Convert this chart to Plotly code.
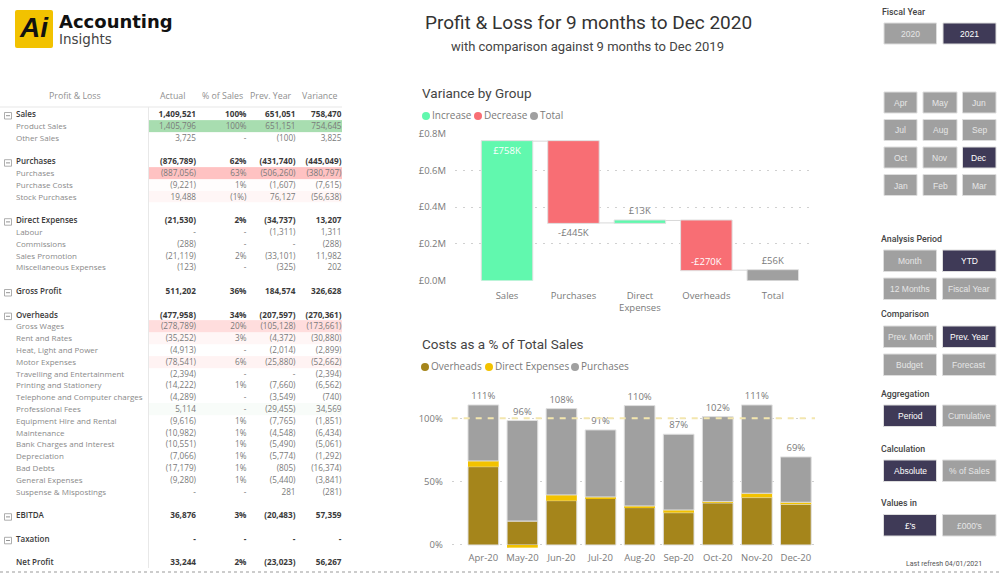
import plotly.graph_objects as go

W, H = 1000, 573
GREY = "#A0A0A0"
NAVY = "#3F3A57"
TXT = "#7A7A7A"
DARK = "#3A3A3A"
TABLE_FONT = "Open Sans"
HEAD_FONT = "Roboto"

def px(x):
    return x / W

def py(y):
    return 1 - y / H

# ---- P&L table, blank rows are None, groups have bold=True
rows = [
    ("Sales", "1,409,521", "100%", "651,051", "758,470", True, True),
    ("Product Sales", "1,405,796", "100%", "651,151", "754,645", False, False),
    ("Other Sales", "3,725", "-", "(100)", "3,825", False, False),
    None,
    ("Purchases", "(876,789)", "62%", "(431,740)", "(445,049)", True, True),
    ("Purchases", "(887,056)", "63%", "(506,260)", "(380,797)", False, False),
    ("Purchase Costs", "(9,221)", "1%", "(1,607)", "(7,615)", False, False),
    ("Stock Purchases", "19,488", "(1%)", "76,127", "(56,638)", False, False),
    None,
    ("Direct Expenses", "(21,530)", "2%", "(34,737)", "13,207", True, True),
    ("Labour", "-", "-", "(1,311)", "1,311", False, False),
    ("Commissions", "(288)", "-", "-", "(288)", False, False),
    ("Sales Promotion", "(21,119)", "2%", "(33,101)", "11,982", False, False),
    ("Miscellaneous Expenses", "(123)", "-", "(325)", "202", False, False),
    None,
    ("Gross Profit", "511,202", "36%", "184,574", "326,628", True, True),
    None,
    ("Overheads", "(477,958)", "34%", "(207,597)", "(270,361)", True, True),
    ("Gross Wages", "(278,789)", "20%", "(105,128)", "(173,661)", False, False),
    ("Rent and Rates", "(35,252)", "3%", "(4,372)", "(30,880)", False, False),
    ("Heat, Light and Power", "(4,913)", "-", "(2,014)", "(2,899)", False, False),
    ("Motor Expenses", "(78,541)", "6%", "(25,880)", "(52,662)", False, False),
    ("Travelling and Entertainment", "(2,394)", "-", "-", "(2,394)", False, False),
    ("Printing and Stationery", "(14,222)", "1%", "(7,660)", "(6,562)", False, False),
    ("Telephone and Computer charges", "(4,289)", "-", "(3,549)", "(740)", False, False),
    ("Professional Fees", "5,114", "-", "(29,455)", "34,569", False, False),
    ("Equipment Hire and Rental", "(9,616)", "1%", "(7,765)", "(1,851)", False, False),
    ("Maintenance", "(10,982)", "1%", "(4,548)", "(6,434)", False, False),
    ("Bank Charges and Interest", "(10,551)", "1%", "(5,490)", "(5,061)", False, False),
    ("Depreciation", "(7,066)", "1%", "(5,774)", "(1,292)", False, False),
    ("Bad Debts", "(17,179)", "1%", "(805)", "(16,374)", False, False),
    ("General Expenses", "(9,280)", "1%", "(5,440)", "(3,841)", False, False),
    ("Suspense & Mispostings", "-", "-", "281", "(281)", False, False),
    None,
    ("EBITDA", "36,876", "3%", "(20,483)", "57,359", True, True),
    None,
    ("Taxation", "-", "-", "-", "-", True, True),
    None,
    ("Net Profit", "33,244", "2%", "(23,023)", "56,267", True, False),
]
ROW0, ROWH = 114, 11.8
row_y = [ROW0 + ROWH * i for i in range(len(rows))]
text_y = [y + 1 for y in row_y]
col_right = [193, 243.5, 292.5, 338.5]

# conditional formatting, -1 red ... +1 green
tint = {1: 1, 5: -1, 6: -0.04, 7: -0.14, 18: -0.55, 19: -0.14, 21: -0.2, 25: 0.08}
z = [[tint.get(i, 0)] * 4 for i in range(len(rows))]

fig = go.Figure()

fig.add_trace(go.Heatmap(
    x=[149, 198, 246, 294, 342], y=row_y, z=z, zmin=-1, zmax=1,
    colorscale=[[0, "#FFC2C2"], [0.5, "#FFFFFF"], [1, "#A8DDB0"]],
    showscale=False, hoverinfo="skip", xaxis="x3", yaxis="y3",
))

for bold in (False, True):
    idx = [i for i, r in enumerate(rows) if r and r[5] == bold]
    fig.add_trace(go.Scatter(
        x=[16] * len(idx), y=[text_y[i] for i in idx], text=[rows[i][0] for i in idx],
        mode="text", textposition="middle right",
        textfont=dict(family=TABLE_FONT, size=8, color=DARK if bold else "#8A8A8A", weight=600 if bold else 400),
        xaxis="x3", yaxis="y3", hoverinfo="skip",
    ))
    for c in range(4):
        fig.add_trace(go.Scatter(
            x=[col_right[c] + 3] * len(idx), y=[text_y[i] for i in idx], text=[rows[i][c + 1] for i in idx],
            mode="text", textposition="middle left",
            textfont=dict(family=TABLE_FONT, size=8.2, color=DARK if bold else TXT, weight=700 if bold else 400),
            xaxis="x3", yaxis="y3", hoverinfo="skip",
        ))

# ---- waterfall
fig.add_trace(go.Waterfall(
    x=["Sales", "Purchases", "Direct<br>Expenses", "Overheads", "Total"],
    y=[758470, -445049, 13207, -270361, 56267],
    measure=["relative", "relative", "relative", "relative", "total"],
    text=["£758K", "-£445K", "£13K", "-£270K", "£56K"],
    textposition=["inside", "outside", "outside", "inside", "outside"],
    insidetextanchor="end", constraintext="none", cliponaxis=False,
    insidetextfont=dict(family=TABLE_FONT, size=9.5, color="white"),
    outsidetextfont=dict(family=TABLE_FONT, size=9.5, color=TXT),
    increasing=dict(marker=dict(color="#61F8AE", line=dict(color="#E0E0E0", width=1))),
    decreasing=dict(marker=dict(color="#F86E74", line=dict(color="#E0E0E0", width=1))),
    totals=dict(marker=dict(color=GREY, line=dict(color="#E0E0E0", width=1))),
    connector=dict(line=dict(color="#D8D8D8", width=1)),
    width=0.775, xaxis="x", yaxis="y", hoverinfo="skip",
))

# ---- costs as % of sales
months = ["Apr-20", "May-20", "Jun-20", "Jul-20", "Aug-20", "Sep-20", "Oct-20", "Nov-20", "Dec-20"]
overheads = [61.8, 18.9, 35.0, 36.8, 29.5, 25.5, 33.2, 37.4, 32.1]
direct = [4.5, -2.1, 4.5, 1.1, 1.3, 2.1, 1.0, 3.4, 1.6]
purchases = [44.2, 79.3, 68.1, 52.9, 79.2, 59.8, 67.1, 69.7, 35.8]
totals = ["111%", "96%", "108%", "91%", "110%", "87%", "102%", "111%", "69%"]

for name, vals, col, lw in [("Overheads", overheads, "#A5851B", 1), ("Direct Expenses", direct, "#F2C200", 0), ("Purchases", purchases, GREY, 1)]:
    fig.add_trace(go.Bar(
        x=months, y=vals, name=name, marker=dict(color=col, line=dict(color="#E0E0E0", width=lw)),
        width=0.786, xaxis="x2", yaxis="y2", hoverinfo="skip",
    ))
tops = [o + max(d, 0) + p for o, d, p in zip(overheads, direct, purchases)]
fig.add_trace(go.Scatter(
    x=months, y=tops, text=totals, mode="markers+text", textposition="top center", cliponaxis=False,
    marker=dict(size=4, opacity=0),
    textfont=dict(family=TABLE_FONT, size=9.5, color=TXT), xaxis="x2", yaxis="y2", hoverinfo="skip",
))

# ---- legends
legends = [
    (116, [(426, "Increase", "#61F8AE"), (478, "Decrease", "#F86E74"), (534, "Total", GREY)]),
    (367, [(425, "Overheads", "#A5851B"), (489, "Direct Expenses", "#F2C200"), (575, "Purchases", GREY)]),
]
for ly, items in legends:
    for lx, name, col in items:
        fig.add_trace(go.Scatter(
            x=[lx], y=[ly], text=[name], mode="markers+text", textposition="middle right",
            marker=dict(color=col, size=8), xaxis="x3", yaxis="y3", hoverinfo="skip",
            textfont=dict(family=TABLE_FONT, size=10, color=TXT),
        ))

shapes = []
annots = []

def label(x, y, text, size=9, color=TXT, anchor="left", family=TABLE_FONT, weight=400, style="normal"):
    annots.append(dict(
        x=px(x), y=py(y), xref="paper", yref="paper", text=text, showarrow=False,
        xanchor=anchor, yanchor="middle", align=anchor, borderpad=0,
        font=dict(size=size, color=color, family=family, weight=weight, style=style),
    ))

def line(x0, y0, x1, y1, color="#E8E8E8", width=1, dash="solid"):
    shapes.append(dict(type="line", xref="paper", yref="paper", x0=px(x0), x1=px(x1), y0=py(y0), y1=py(y1),
                       line=dict(color=color, width=width, dash=dash)))

def button(x0, y0, x1, y1, text, on=False):
    shapes.append(dict(type="rect", xref="paper", yref="paper", x0=px(x0), x1=px(x1), y0=py(y0), y1=py(y1),
                       fillcolor=NAVY if on else GREY, line=dict(color="#DDDDDD", width=1)))
    label((x0 + x1) / 2, (y0 + y1) / 2 + 0.5, text, size=8.5, color="white" if on else "#E6E6E6", anchor="center", family="Liberation Sans")

# logo, rounded square
l, r, t, b, c = px(15), px(53), py(10), py(48), 2
cx, cy = c / W, c / H
logo = (f"M {l+cx} {t} L {r-cx} {t} Q {r} {t} {r} {t-cy} L {r} {b+cy} Q {r} {b} {r-cx} {b} "
        f"L {l+cx} {b} Q {l} {b} {l} {b+cy} L {l} {t-cy} Q {l} {t} {l+cx} {t} Z")
shapes.append(dict(type="path", xref="paper", yref="paper", path=logo, fillcolor="#F2C200", line=dict(color="#F2C200", width=0)))
label(34, 28, "Ai", size=28, color="#111111", anchor="center", family="Liberation Sans", weight=700, style="italic")
label(57.5, 22, "Accounting", size=18, color="#111111", family="DejaVu Sans", weight=700)
label(57.5, 38.5, "Insights", size=13.5, color="#444444", family="DejaVu Sans")

# titles
label(588, 22.5, "Profit &amp; Loss for 9 months to Dec 2020", size=19, color="#333333", anchor="center", family=HEAD_FONT)
label(587, 46, "with comparison against 9 months to Dec 2019", size=13, color="#444444", anchor="center", family=HEAD_FONT)
label(421, 93, "Variance by Group", size=13.5, color="#444444", family=HEAD_FONT)
label(421, 344, "Costs as a % of Total Sales", size=13.5, color="#444444", family=HEAD_FONT)

# table chrome
label(75, 96, "Profit &amp; Loss", size=8.8, color="#909090", anchor="center")
label(186, 96, "Actual", size=8.8, color="#909090", anchor="right")
label(243.5, 96, "% of Sales", size=8.8, color="#909090", anchor="right")
label(292.5, 96, "Prev. Year", size=8.8, color="#909090", anchor="right")
label(337.5, 96, "Variance", size=8.8, color="#909090", anchor="right")
line(0, 107, 342, 107, width=1.2)
line(148.5, 107, 148.5, 568, width=1)
for i, row in enumerate(rows):
    if row and row[6]:
        shapes.append(dict(type="rect", xref="paper", yref="paper", x0=px(4.5), x1=px(11.5), y0=py(row_y[i] - 1.5), y1=py(row_y[i] + 5),
                           line=dict(color="#999999", width=0.8), fillcolor="white"))
        line(6, row_y[i] + 1.7, 10, row_y[i] + 1.7, color="#777777", width=0.8)

# slicers
label(881, 12, "Fiscal Year", size=8.8, color="#444444", family=HEAD_FONT, weight=500)
button(884, 23, 936.5, 44, "2020")
button(943, 23, 996, 44, "2021", True)
month_names = ["Apr", "May", "Jun", "Jul", "Aug", "Sep", "Oct", "Nov", "Dec", "Jan", "Feb", "Mar"]
col_x = [(884, 917), (923, 957), (962.5, 996)]
row_t = [92, 119.5, 147, 174.5]
for i, m in enumerate(month_names):
    x0, x1 = col_x[i % 3]
    top = row_t[i // 3]
    button(x0, top, x1, top + 21, m, m == "Dec")

LEFT, RIGHT = (883.5, 936.5), (942.5, 996)
groups = [
    ("Analysis Period", 239, [(250, [("Month", 0), ("YTD", 1)]), (278, [("12 Months", 0), ("Fiscal Year", 0)])]),
    ("Comparison", 314, [(326, [("Prev. Month", 0), ("Prev. Year", 1)]), (354, [("Budget", 0), ("Forecast", 0)])]),
    ("Aggregation", 394, [(405, [("Period", 1), ("Cumulative", 0)])]),
    ("Calculation", 449, [(460, [("Absolute", 1), ("% of Sales", 0)])]),
    ("Values in", 503, [(514.5, [("£'s", 1), ("£000's", 0)])]),
]
for title, ty, btns in groups:
    label(880, ty, title, size=8.8, color="#444444", family=HEAD_FONT, weight=500)
    for top, pair in btns:
        for (x0, x1), (name, on) in zip((LEFT, RIGHT), pair):
            button(x0, top, x1, top + 21.5, name, bool(on))
label(944, 564, "Last refresh 04/01/2021", size=7, color="#555555", anchor="center", family=HEAD_FONT)
line(0, 572, 1000, 572, color="#999999", width=1, dash="dot")

# 100% reference
shapes.append(dict(type="line", xref="x2 domain", yref="y2", x0=0, x1=1, y0=100, y1=100, layer="above",
                   line=dict(color="#F3E6AE", width=2, dash="6px,6px")))

tickfont = dict(family=TABLE_FONT, size=9.5, color=TXT)
fig.update_layout(
    width=W, height=H, margin=dict(l=0, r=0, t=0, b=0, autoexpand=False), showlegend=False,
    paper_bgcolor="white", plot_bgcolor="rgba(0,0,0,0)", barmode="relative",
    shapes=shapes, annotations=annots,
    xaxis=dict(domain=[px(455), px(810)], range=[-0.783, 4.56], showgrid=False, zeroline=False, showline=False,
               tickfont=tickfont, ticks="outside", ticklen=6, tickcolor="rgba(0,0,0,0)"),
    yaxis=dict(domain=[py(280.5), py(133.5)], range=[0, 800000], tickvals=[0, 200000, 400000, 600000, 800000],
               ticktext=["£0.0M", "£0.2M", "£0.4M", "£0.6M", "£0.8M"], gridcolor="#D0D0D0", griddash="2px,6px",
               zeroline=False, tickfont=tickfont, ticks="outside", ticklen=6, tickcolor="rgba(0,0,0,0)"),
    xaxis2=dict(domain=[px(451.7), px(815)], range=[-0.81, 8.49], showgrid=False, zeroline=False, showline=False,
                tickfont=tickfont, anchor="y2", ticks="outside", ticklen=0, tickcolor="rgba(0,0,0,0)"),
    yaxis2=dict(domain=[py(549), py(400)], range=[-3.16, 114.4], tickvals=[0, 50, 100], ticktext=["0%", "50%", "100%"],
                gridcolor="#D0D0D0", griddash="2px,6px", zeroline=False, tickfont=tickfont, anchor="x2",
                ticks="outside", ticklen=6, tickcolor="rgba(0,0,0,0)"),
    xaxis3=dict(domain=[0, 1], range=[0, W], visible=False, anchor="y3"),
    yaxis3=dict(domain=[0, 1], range=[H, 0], visible=False, anchor="x3"),
)

fig.write_html("out.html", config={"displayModeBar": False}, post_script="document.body.style.margin='0';")
